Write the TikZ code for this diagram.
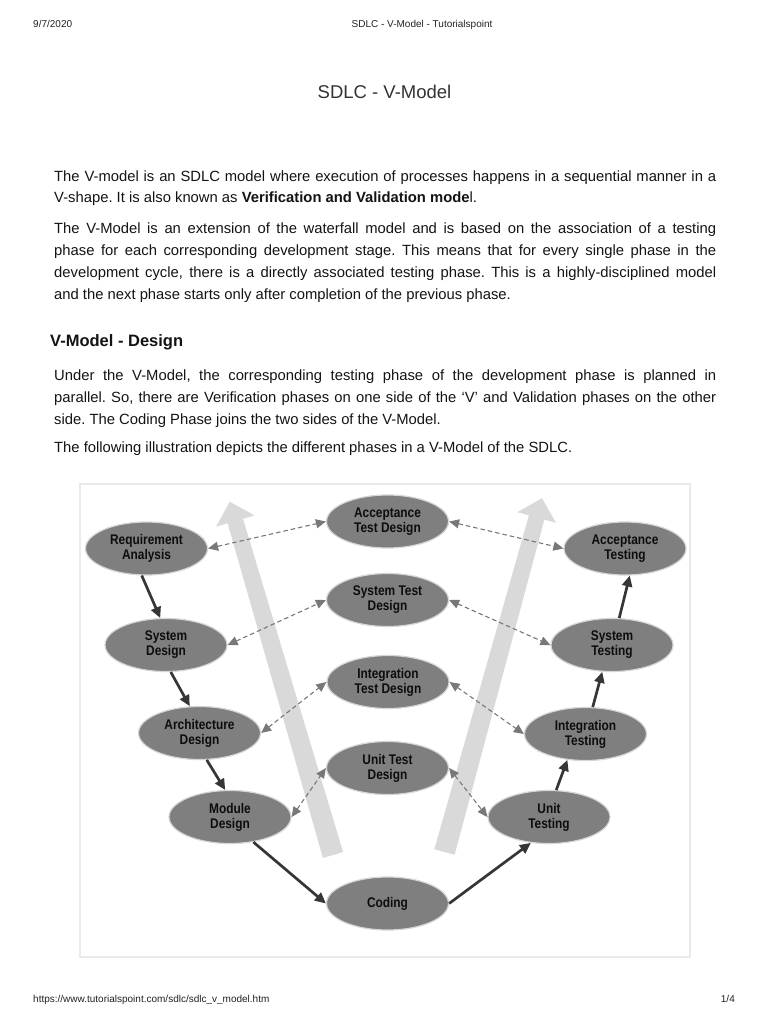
\documentclass[tikz,border=0pt]{standalone}
\usepackage{fontspec}
\setmainfont{Liberation Sans}
\newfontfamily\phasefont[FakeStretch=0.85]{Liberation Sans}
\usetikzlibrary{arrows.meta,shapes.geometric}
\frenchspacing

\definecolor{pagetext}{HTML}{141414}
\definecolor{headtext}{HTML}{222222}
\definecolor{phasefill}{HTML}{7F7F7F}
\definecolor{phaserim}{HTML}{D6D6D6}
\definecolor{flowline}{HTML}{363636}
\definecolor{linkline}{HTML}{787878}
\definecolor{vband}{HTML}{D9D9D9}
\definecolor{framegray}{HTML}{EAEAEA}

\newcommand\jline[1]{\makebox[662pt][s]{#1}}

\tikzset{
  textline/.style={anchor=base west,inner sep=0pt,text=pagetext,font=\fontsize{14.8}{17}\selectfont},
  smallline/.style={inner sep=0pt,text=headtext,font=\fontsize{10}{12}\selectfont},
  phase/.style={ellipse,minimum width=122pt,minimum height=53pt,inner sep=0pt,
    fill=phasefill,draw=phaserim,line width=1.2pt,align=center,text=black!95,
    font=\phasefont\bfseries\fontsize{14}{15}\selectfont},
  flow/.style={draw=flowline,line width=2.7pt,-{Triangle[length=11pt,width=10pt]}},
  link/.style={draw=linkline,line width=1.1pt,dash pattern=on 4.5pt off 3pt,
    {Triangle[length=10pt,width=9pt]}-{Triangle[length=10pt,width=9pt]}}
}

\begin{document}
\begin{tikzpicture}[x=1pt,y=-1pt]
   \useasboundingbox (0,0) rectangle (768,1024);
   \fill[white] (0,0) rectangle (768,1024);

   % page header and footer
   \node[smallline,anchor=base west] (date) at (33,28) {9/7/2020};
   \node[smallline,anchor=base] (tab) at (422,28) {SDLC - V-Model - Tutorialspoint};
   \node[smallline,anchor=base west] (url) at (33,1002) {https://www.tutorialspoint.com/sdlc/sdlc\_v\_model.htm};
   \node[smallline,anchor=base east] (pageno) at (735,1002) {1/4};

   % title
   \node[anchor=base,inner sep=0pt,text=black!80,font=\fontsize{18.5}{22}\selectfont] (title) at (384.5,98.6) {SDLC - V-Model};

   % text
   \node[textline] (p1a) at (54,181.2) {\jline{The V-model is an SDLC model where execution of processes happens in a sequential manner in a}};
   \node[textline] (p1b) at (54,202.9) {V-shape. It is also known as \textbf{Verification and Validation mode}l.};
   \node[textline] (p2a) at (54,233.9) {\jline{The V-Model is an extension of the waterfall model and is based on the association of a testing}};
   \node[textline] (p2b) at (54,255.6) {\jline{phase for each corresponding development stage. This means that for every single phase in the}};
   \node[textline] (p2c) at (54,277.3) {\jline{development cycle, there is a directly associated testing phase. This is a highly-disciplined model}};
   \node[textline] (p2d) at (54,299.0) {and the next phase starts only after completion of the previous phase.};
   \node[anchor=base west,inner sep=0pt,text=pagetext,font=\fontsize{16.5}{20}\selectfont\bfseries] (design) at (50,346) {V-Model - Design};
   \node[textline] (p3a) at (54,380.8) {\jline{Under the V-Model, the corresponding testing phase of the development phase is planned in}};
   \node[textline] (p3b) at (54,402.5) {\jline{parallel. So, there are Verification phases on one side of the ‘V’ and Validation phases on the other}};
   \node[textline] (p3c) at (54,424.2) {side. The Coding Phase joins the two sides of the V-Model.};
   \node[textline] (p4a) at (54,452) {The following illustration depicts the different phases in a V-Model of the SDLC.};

   % diagram frame
   \draw[framegray,line width=1.5pt] (80,484) rectangle (690,957);

   % wide arrows behind
   \begin{scope}[shift={(333,855)},rotate=16.3]
   \fill[vband] (-10.5,0) -- (-8,-348) -- (-20,-348) -- (0,-368) -- (20,-348) -- (8,-348) -- (10.5,0) -- cycle;
   \end{scope}
   \begin{scope}[shift={(444.5,852)},rotate=-15.4]
   \fill[vband] (-10.5,0) -- (-8,-347) -- (-20,-347) -- (0,-367) -- (20,-347) -- (8,-347) -- (10.5,0) -- cycle;
   \end{scope}

   % phases
   \node[phase] (ra)  at (146.5,548.5) {Requirement\\Analysis};
   \node[phase] (sd)  at (166,645)     {System\\Design};
   \node[phase] (ad)  at (199.5,733)   {Architecture\\Design};
   \node[phase] (md)  at (230,817)     {Module\\Design};
   \node[phase] (cod) at (387.5,903.5) {Coding};
   \node[phase] (ut)  at (549,817)     {Unit\\Testing};
   \node[phase] (it)  at (585.5,734)   {Integration\\Testing};
   \node[phase] (st)  at (612,645)     {System\\Testing};
   \node[phase] (at)  at (625,548.5)   {Acceptance\\Testing};
   \node[phase] (atd) at (387.5,521.5) {Acceptance\\Test Design};
   \node[phase] (std) at (387.5,600)   {System Test\\Design};
   \node[phase] (itd) at (388,682)     {Integration\\Test Design};
   \node[phase] (utd) at (387.5,768)   {Unit Test\\Design};

   % the V
   \draw[flow] (ra.-100) -- (sd.102);
   \draw[flow] (sd.-80) -- (ad.110);
   \draw[flow] (ad.-75) -- (md.100);
   \draw[flow] (md.-47) -- (cod.west);
   \draw[flow] (cod.east) -- (ut.235);
   \draw[flow] (ut.75) -- (it.235);
   \draw[flow] (it.75) -- (st.-110);
   \draw[flow] (st.75) -- (at.-80);

   % test design links
   \draw[link] (ra.east) -- (atd.west);
   \draw[link] (sd.east) -- (std.west);
   \draw[link] (ad.east) -- (itd.west);
   \draw[link] (md.east) -- (utd.west);
   \draw[link] (atd.east) -- (at.west);
   \draw[link] (std.east) -- (st.west);
   \draw[link] (itd.east) -- (it.west);
   \draw[link] (utd.east) -- (ut.west);
\end{tikzpicture}
\end{document}
